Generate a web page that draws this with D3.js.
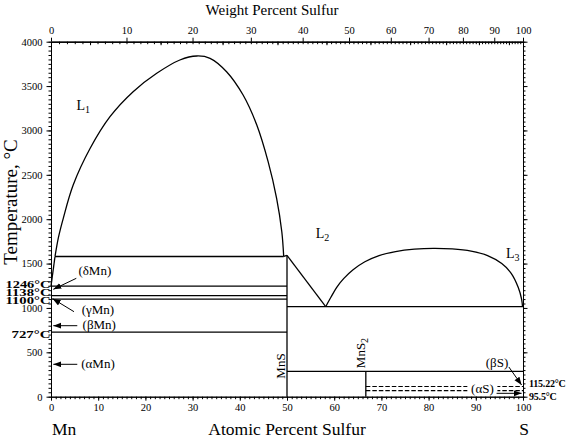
<!DOCTYPE html>
<html>
<head>
<meta charset="utf-8">
<script src="https://cdn.jsdelivr.net/npm/d3@7"></script>
<style>
  body { margin: 0; background: #fff; }
</style>
</head>
<body>
<svg id="chart" width="568" height="439"></svg>
<script>
'use strict';

// tick labels
const atomicTicks = [0, 10, 20, 30, 40, 50, 60, 70, 80, 90, 100];
const weightTicks = [0, 10, 20, 30, 40, 50, 60, 70, 80, 90, 100];
const tempTicks   = [0, 500, 1000, 1500, 2000, 2500, 3000, 3500, 4000];

// phase boundaries, [atomic % S, temperature °C]
const mnLiquidus = [[0, 1246], [0.85, 1580]];
const l1Dome = [[0.85, 1580], [1.6, 1800], [2.6, 2010], [4.7, 2385], [8.3, 2799], [12.5, 3155],
  [17.4, 3437], [22.4, 3644], [27.3, 3794], [30.9, 3839], [33.7, 3813],
  [37.2, 3662], [40.7, 3399], [43.6, 3061], [46.0, 2648], [47.8, 2235],
  [48.9, 1859], [49.3, 1580]];
const l2Liquidus = [[50, 1592], [58.2, 1014]];
const l3Dome = [[58.2, 1014], [59.3, 1120], [60.5, 1230], [62, 1330], [64, 1430],
  [66.5, 1520], [69.5, 1590], [73, 1635], [77, 1662], [81, 1672], [85, 1665],
  [89, 1640], [92.5, 1590], [95.5, 1500], [97.5, 1390], [99, 1230], [99.7, 1100], [99.9, 1014]];
const mnsTop = [[49.3, 1580], [50, 1592]];

// isotherms: [from, to, temperature]
const isotherms = [[0.85, 49.3, 1580], [0, 50, 1246], [0, 50, 1138], [0, 50, 1100],
  [0, 50, 727], [50, 100, 1014], [50, 100, 285]];
const dashedIsotherms = [[66.7, 100, 115], [66.7, 100, 68]];
// compounds: [composition, top temperature]
const compounds = [[50, 1592], [66.7, 285]];

// temperature labels
const leftTemps  = ['1246°C', '1138°C', '1100°C', '727°C'];
const leftTempAt = [1225, 1135, 1050, 665];
const rightTemps  = ['115.22°C', '95.5°C'];
const rightTempAt = [109, -34];

// phase names with arrows: text, text pos, arrow tail, arrow head
const phaseArrows = [
  { t: '(δMn)', at: [5.8, 1370],  from: [5.36, 1334], to: [0.49, 1210] },
  { t: '(γMn)', at: [6.5, 930],   from: [4.87, 958],  to: [0.36, 1104] },
  { t: '(βMn)', at: [6.7, 763],   from: [5.57, 800],  to: [0.49, 800] },
  { t: '(αMn)', at: [6.4, 323],   from: [5.57, 365],  to: [0.49, 365] }
];

const MN_MASS = 54.938, S_MASS = 32.065;
const wtToAt = w => {
  if (w <= 0) return 0;
  if (w >= 100) return 100;
  const a = w / S_MASS, b = (100 - w) / MN_MASS;
  return 100 * a / (a + b);
};

const FONT = '"Liberation Serif", "Times New Roman", "DejaVu Serif", serif';

const svg = d3.select('#chart')
  .attr('font-family', FONT)
  .style('font-family', FONT);

const x = d3.scaleLinear().domain([0, 100]).range([51, 523]);
const y = d3.scaleLinear().domain([0, 4000]).range([396.7, 41.7]);

// markers
svg.append('defs').append('marker')
  .attr('id', 'arrow')
  .attr('markerUnits', 'userSpaceOnUse')
  .attr('markerWidth', 9).attr('markerHeight', 7)
  .attr('refX', 8).attr('refY', 3)
  .attr('orient', 'auto')
  .append('path').attr('d', 'M0,0L8,3L0,6Z').attr('fill', '#000');

const styleAxis = g => {
  g.attr('font-family', FONT).attr('font-size', 10.5);
  g.selectAll('text').style('font-family', FONT).attr('fill', '#000');
  g.selectAll('path, line').attr('stroke', '#000').attr('stroke-width', 1);
};

// bottom axis
svg.append('g').attr('transform', `translate(0,${y(0)})`)
  .call(d3.axisBottom(x).tickValues(d3.range(0, 101, 1)).tickSize(2.5).tickSizeOuter(0).tickFormat(''))
  .call(styleAxis);
svg.append('g').attr('transform', `translate(0,${y(0)})`)
  .call(d3.axisBottom(x).tickValues(atomicTicks).tickSize(4).tickSizeOuter(0).tickFormat(d3.format('d')))
  .call(styleAxis)
  .call(g => g.selectAll('text').attr('y', 14).attr('dy', 0));

// top axis, weight percent
svg.append('g').attr('transform', `translate(0,${y(4000)})`)
  .call(d3.axisTop(x).tickValues(d3.range(0, 101, 1).map(wtToAt)).tickSize(-2.5).tickSizeOuter(0).tickFormat(''))
  .call(styleAxis);
svg.append('g').attr('transform', `translate(0,${y(4000)})`)
  .call(d3.axisTop(x).tickValues(d3.range(5, 100, 10).map(wtToAt)).tickSize(-3.5).tickSizeOuter(0).tickFormat(''))
  .call(styleAxis);
svg.append('g').attr('transform', `translate(0,${y(4000)})`)
  .call(d3.axisTop(x).tickValues(weightTicks.map(wtToAt)).tickSize(4).tickSizeOuter(0)
    .tickFormat((d, i) => weightTicks[i]))
  .call(styleAxis)
  .call(g => g.selectAll('text').attr('y', -7.5).attr('dy', 0));

// left axis
svg.append('g').attr('transform', `translate(${x(0)},0)`)
  .call(d3.axisLeft(y).tickValues(d3.range(0, 4001, 50)).tickSize(2.5).tickSizeOuter(0).tickFormat(''))
  .call(styleAxis);
svg.append('g').attr('transform', `translate(${x(0)},0)`)
  .call(d3.axisLeft(y).tickValues(tempTicks).tickSize(4.5).tickSizeOuter(0).tickFormat(d3.format('d')))
  .call(styleAxis)
  .call(g => g.selectAll('text').attr('x', -8.5));

// right axis
svg.append('g').attr('transform', `translate(${x(100)},0)`)
  .call(d3.axisRight(y).tickValues(d3.range(0, 4001, 50)).tickSize(2.5).tickSizeOuter(0).tickFormat(''))
  .call(styleAxis);
svg.append('g').attr('transform', `translate(${x(100)},0)`)
  .call(d3.axisRight(y).tickValues(tempTicks).tickSize(4.5).tickSizeOuter(0).tickFormat(''))
  .call(styleAxis);

// phase boundaries
const curve = d3.line().x(d => x(d[0])).y(d => y(d[1])).curve(d3.curveCatmullRom);
const straight = d3.line().x(d => x(d[0])).y(d => y(d[1]));
const lines = svg.append('g').attr('fill', 'none').attr('stroke', '#000').attr('stroke-width', 1.3);

lines.append('path').attr('d', straight(mnLiquidus));
lines.append('path').attr('d', curve(l1Dome));
lines.append('path').attr('d', straight(l2Liquidus));
lines.append('path').attr('d', curve(l3Dome));
lines.append('path').attr('d', straight(mnsTop));

lines.selectAll('line.iso').data(isotherms).join('line')
  .attr('class', 'iso')
  .attr('x1', d => x(d[0])).attr('x2', d => x(d[1]))
  .attr('y1', d => y(d[2])).attr('y2', d => y(d[2]));

lines.selectAll('line.cmp').data(compounds).join('line')
  .attr('class', 'cmp')
  .attr('x1', d => x(d[0])).attr('x2', d => x(d[0]))
  .attr('y1', y(0)).attr('y2', d => y(d[1]));

lines.selectAll('line.dash').data(dashedIsotherms).join('line')
  .attr('class', 'dash')
  .attr('stroke-width', 1.1)
  .attr('stroke-dasharray', '4.5,2')
  .attr('x1', d => x(d[0])).attr('x2', d => x(d[1]))
  .attr('y1', d => y(d[2])).attr('y2', d => y(d[2]));

// liquid labels
const liquid = [['L', '1', [5.4, 3230]], ['L', '2', [56.1, 1785]], ['L', '3', [96.4, 1559]]];
liquid.forEach(([t, s, p]) => {
  const tx = svg.append('text').attr('x', x(p[0])).attr('y', y(p[1])).attr('font-size', 14);
  tx.append('tspan').text(t);
  tx.append('tspan').attr('dy', 3).attr('font-size', 10).text(s);
});

// solid phase labels with arrows
phaseArrows.forEach(d => {
  svg.append('text').attr('x', x(d.at[0])).attr('y', y(d.at[1])).attr('font-size', 13).text(d.t);
  svg.append('line')
    .attr('x1', x(d.from[0])).attr('y1', y(d.from[1]))
    .attr('x2', x(d.to[0])).attr('y2', y(d.to[1]))
    .attr('stroke', '#000').attr('stroke-width', 1)
    .attr('marker-end', 'url(#arrow)');
});

// (βS) and (αS)
svg.append('text').attr('x', x(94.5)).attr('y', y(335)).attr('text-anchor', 'middle')
  .attr('font-size', 13).text('(βS)');
svg.append('line')
  .attr('x1', x(97.0)).attr('y1', y(335)).attr('x2', x(99.7)).attr('y2', y(132))
  .attr('stroke', '#000').attr('stroke-width', 1).attr('marker-end', 'url(#arrow)');
svg.append('rect').attr('x', x(91.4) - 15).attr('y', y(47) - 10).attr('width', 30).attr('height', 13)
  .attr('fill', '#fff');
svg.append('text').attr('x', x(91.4)).attr('y', y(47)).attr('text-anchor', 'middle')
  .attr('font-size', 13).text('(αS)');
svg.append('line')
  .attr('x1', x(94.4)).attr('y1', y(38)).attr('x2', x(99.7)).attr('y2', y(38))
  .attr('stroke', '#000').attr('stroke-width', 1).attr('marker-end', 'url(#arrow)');

// compound labels
const compLabel = (cx, t, txt, sub) => {
  const tx = svg.append('text')
    .attr('transform', `translate(${cx},${y(t)}) rotate(-90)`)
    .attr('text-anchor', 'middle').attr('font-size', 13);
  tx.append('tspan').text(txt);
  if (sub) tx.append('tspan').attr('dy', 3).attr('font-size', 10).text(sub);
};
compLabel(x(50) - 2.5, 346, 'MnS');
compLabel(x(66.7) - 0.5, 492, 'MnS', '2');

// temperature labels
svg.selectAll('text.lt').data(leftTemps).join('text')
  .attr('class', 'lt')
  .attr('x', x(0) - 0.5).attr('y', (d, i) => y(leftTempAt[i]))
  .attr('text-anchor', 'end').attr('font-size', 10).attr('font-weight', 'bold')
  .attr('textLength', d => d.length > 5 ? 45 : 39)
  .attr('lengthAdjust', 'spacingAndGlyphs')
  .text(d => d);
svg.selectAll('text.rt').data(rightTemps).join('text')
  .attr('class', 'rt')
  .attr('x', x(100) + 6).attr('y', (d, i) => y(rightTempAt[i]))
  .attr('font-size', 10).attr('font-weight', 'bold')
  .attr('letter-spacing', -0.2)
  .text(d => d);

// axis titles
svg.append('text').attr('x', 272).attr('y', 15).attr('text-anchor', 'middle')
  .attr('font-size', 15).text('Weight Percent Sulfur');
svg.append('text').attr('x', 287).attr('y', 435).attr('text-anchor', 'middle')
  .attr('font-size', 17.5).text('Atomic Percent Sulfur');
svg.append('text').attr('x', 52).attr('y', 435).attr('font-size', 17.5).text('Mn');
svg.append('text').attr('x', 524).attr('y', 435).attr('text-anchor', 'middle')
  .attr('font-size', 17.5).text('S');
svg.append('text').attr('transform', 'translate(17,202) rotate(-90)').attr('text-anchor', 'middle')
  .attr('font-size', 19).text('Temperature, °C');
</script>
</body>
</html>
